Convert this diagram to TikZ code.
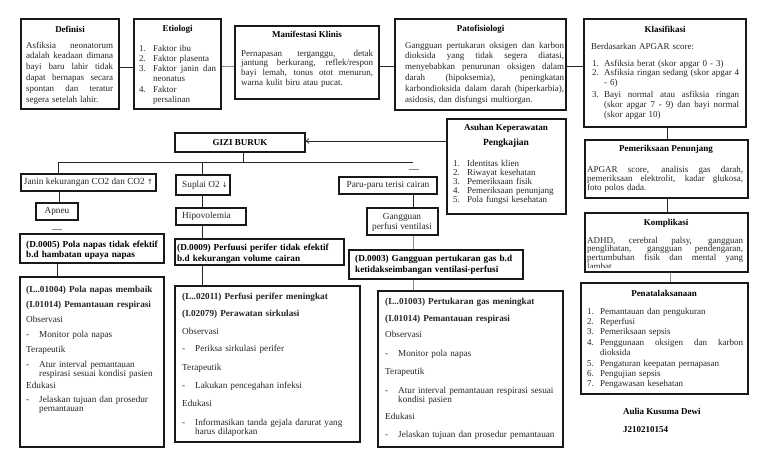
\documentclass[tikz,border=0pt]{standalone}
\usepackage{fontspec}
\setmainfont{Liberation Serif}
\newfontfamily\symfont{DejaVu Sans}
\usetikzlibrary{fit,arrows.meta}
\newcommand{\jl}[2]{{\spaceskip=0pt\xspaceskip=0pt\makebox[#1pt][s]{#2}}}
\newcommand{\nm}[2][14]{\makebox[#1pt][l]{#2}}
\newcommand{\ind}[1][14]{\hspace*{#1pt}}
\begin{document}
\begin{tikzpicture}[x=1pt,y=-1pt,
  frame/.style={draw=black!90, line width=1.2pt, inner sep=0pt},
  conn/.style={draw=black!85, line width=0.7pt},
  lconn/.style={draw=black!45, line width=0.7pt},
  ttl/.style={font=\fontsize{9}{10}\selectfont\bfseries, inner sep=0pt, anchor=center},
  body/.style={font=\fontsize{9}{#1}\selectfont, inner sep=0pt, anchor=base west, text=black!85},
  lbody/.style={font=\fontsize{9.2}{#1}\selectfont, inner sep=0pt, anchor=base west, text=black!85},
  dbody/.style={font=\fontsize{9.2}{#1}\selectfont\bfseries, inner sep=0pt, anchor=base west},
  lbl/.style={font=\fontsize{9.3}{10}\selectfont, inner sep=0pt, text=black!85}]
\fill[white] (0,0) rectangle (768,466);
\useasboundingbox (0,0) rectangle (768,466);

% ---------- top row ----------
\node[frame, fit={(21,19)(119,109)}] (def) {};
\node[ttl] (deft) at (70,29) {Definisi};
\node[body=10.8, text width=92] (defb) at (26,48) {\jl{87}{Asfiksia neonatorum}\\ \jl{87}{adalah keadaan dimana}\\ \jl{87}{bayi baru lahir tidak}\\ \jl{87}{dapat bernapas secara}\\ \jl{87}{spontan dan teratur}\\ segera setelah lahir.};

\node[frame, fit={(134,19)(221,109)}] (eti) {};
\node[ttl] (etit) at (177.5,29) {Etiologi};
\node[body=10.3, text width=85] (etib) at (139,51) {\nm{1.}Faktor ibu\\ \nm{2.}Faktor plasenta\\ \nm{3.}\jl{63}{Faktor janin dan}\\ \ind neonatus\\ \nm{4.}Faktor\\ \ind persalinan};

\node[frame, fit={(235,26)(379,99)}] (man) {};
\node[ttl] (mant) at (307,34) {Manifestasi Klinis};
\node[body=9.8, text width=140] (manb) at (241,56) {\jl{132}{Pernapasan terganggu, detak}\\ \jl{132}{jantung berkurang, reflek/respon}\\ \jl{132}{bayi lemah, tonus otot menurun,}\\ warna kulit biru atau pucat.};

\node[frame, fit={(395,19)(566,110)}] (pat) {};
\node[ttl] (patt) at (480.5,29) {Patofisiologi};
\node[body=10.8, text width=170] (patb) at (405,48) {\jl{159}{Gangguan pertukaran oksigen dan karbon}\\ \jl{159}{dioksida yang tidak segera diatasi,}\\ \jl{159}{menyebabkan penurunan oksigen dalam}\\ \jl{159}{darah (hipoksemia), peningkatan}\\ \jl{159}{karbondioksida dalam darah (hiperkarbia),}\\ asidosis, dan disfungsi multiorgan.};

\node[frame, fit={(584,19)(746,127)}] (kla) {};
\node[ttl] (klat) at (665,29) {Klasifikasi};
\node[body=10, text width=150] (klab) at (591,49) {Berdasarkan APGAR score:};
\node[body=9.8, text width=160] (klal) at (592,66) {\nm[12]{1.}Asfiksia berat (skor apgar 0 - 3)\\ \nm[12]{2.}\jl{135}{Asfiksia ringan sedang (skor apgar 4}\\ \ind[12]- 6)\\[2pt] \nm[12]{3.}\jl{135}{Bayi normal atau asfiksia ringan}\\ \ind[12]\jl{135}{(skor apgar 7 - 9) dan bayi normal}\\ \ind[12](skor apgar 10)};

% ---------- right column ----------
\node[frame, fit={(585,140)(748,198)}] (pen) {};
\node[ttl] (pent) at (666,149) {Pemeriksaan Penunjang};
\node[body=9, text width=165] (penb) at (587,172) {\jl{156}{APGAR score, analisis gas darah,}\\ \jl{156}{pemeriksaan elektrolit, kadar glukosa,}\\ foto polos dada.};

\node[frame, fit={(585,213)(748,272)}] (kom) {};
\node[ttl] (komt) at (666,223) {Komplikasi};
\begin{scope}
\clip (586,213) rectangle (747,267.5);
\node[body=8.8, text width=165] (komb) at (587,243) {\jl{156}{ADHD, cerebral palsy, gangguan}\\ \jl{156}{penglihatan, gangguan pendengaran,}\\ \jl{156}{pertumbuhan fisik dan mental yang}\\ lambat};
\end{scope}

\node[frame, fit={(581,283)(748,394)}] (pnt) {};
\node[ttl] (pntt) at (664,293) {Penatalaksanaan};
\node[body=10.4, text width=165] (pntb) at (587,314) {\nm[13]{1.}Pemantauan dan pengukuran\\ \nm[13]{2.}Reperfusi\\ \nm[13]{3.}Pemeriksaan sepsis\\ \nm[13]{4.}\jl{143}{Penggunaan oksigen dan karbon}\\ \ind[13]dioksida\\ \nm[13]{5.}Pengaturan keepatan pernapasan\\ \nm[13]{6.}Pengujian sepsis\\ \nm[13]{7.}Pengawasan kesehatan};

\node[ttl, anchor=west] (nama) at (623,411) {Aulia Kusuma Dewi};
\node[ttl, anchor=west] (nim) at (623,430) {J210210154};

% ---------- Asuhan ----------
\node[frame, fit={(447,119)(566,214)}] (asu) {};
\node[ttl] (asut) at (506,128) {Asuhan Keperawatan};
\node[ttl, font=\fontsize{9.5}{11}\selectfont\bfseries] (pkj) at (506,143) {Pengkajian};
\node[body=9, text width=112] (asub) at (453,166) {\nm{1.}Identitas klien\\ \nm{2.}Riwayat kesehatan\\ \nm{3.}Pemeriksaan fisik\\ \nm{4.}Pemeriksaan penunjang\\ \nm{5.}Pola fungsi kesehatan};

% ---------- tree ----------
\node[frame, fit={(175,133)(305,152)}] (gizi) {};
\node[ttl] (gizit) at (240,142.5) {GIZI BURUK};

\node[frame, fit={(21,174)(156,191)}] (janin) {};
\node[lbl] (janint) at (88.5,182.5) {Janin kekurangan CO2 dan CO2 {\symfont\fontsize{7}{8}\selectfont ↑}};
\node[frame, fit={(176,175)(230,195)}] (sup) {};
\node[lbl, anchor=west] (supt) at (182,185) {Suplai O2 {\symfont\fontsize{7}{8}\selectfont ↓}};
\node[frame, fit={(339,177)(437,194)}] (paru) {};
\node[lbl] (parut) at (388,185.5) {Paru-paru terisi cairan};

\node[frame, fit={(36,203)(78,220)}] (apn) {};
\node[lbl] (apnt) at (57,211.5) {Apneu};
\node[frame, fit={(176,208)(246,225)}] (hip) {};
\node[lbl, anchor=west] (hipt) at (182,216.5) {Hipovolemia};
\node[frame, fit={(367,208)(438,235)}] (gpv) {};
\node[lbl, align=center] (gpvt) at (402,222.5) {Gangguan\\perfusi ventilasi};

\node[frame, fit={(20,234)(164,263)}] (d5) {};
\node[dbody=10, text width=145] (d5t) at (26,247) {(D.0005) Pola napas tidak efektif\\ b.d hambatan upaya napas};
\node[frame, fit={(175,239)(344,265)}] (d9) {};
\node[dbody=11, text width=170] (d9t) at (177,250) {(D.0009) Perfuusi perifer tidak efektif\\ b.d kekurangan volume cairan};
\node[frame, fit={(349,250)(523,279)}] (d3) {};
\node[dbody=11, text width=175] (d3t) at (355,261) {(D.0003) Gangguan pertukaran gas b.d\\ ketidakseimbangan ventilasi-perfusi};

\node[frame, fit={(20,277)(164,447)}] (l4) {};
\node[lbody=9, text width=145] (l4t) at (26,292) {\textbf{(L..01004) Pola napas membaik}\\[6pt] \textbf{(I.01014) Pemantauan respirasi}\\[6pt] Observasi\\[6pt] \nm[13]{-}Monitor pola napas\\[6pt] Terapeutik\\[6pt] \nm[13]{-}Atur interval pemantauan\\ \ind[13]respirasi sesuai kondisi pasien\\[3pt] Edukasi\\[5pt] \nm[13]{-}Jelaskan tujuan dan prosedur\\ \ind[13]pemantauan};

\node[frame, fit={(175,286)(360,442)}] (l2) {};
\node[lbody=9, text width=180] (l2t) at (182,299) {\textbf{(L..02011) Perfusi perifer meningkat}\\[8pt] \textbf{(I.02079) Perawatan sirkulasi}\\[9pt] Observasi\\[8pt] \nm[13]{-}Periksa sirkulasi perifer\\[10pt] Terapeutik\\[9pt] \nm[13]{-}Lakukan pencegahan infeksi\\[9pt] Edukasi\\[10pt] \nm[13]{-}Informasikan tanda gejala darurat yang\\ \ind[13]harus dilaporkan};

\node[frame, fit={(378,291)(563,447)}] (l3) {};
\node[lbody=9.5, text width=180] (l3t) at (385,304) {\textbf{(L..01003) Pertukaran gas meningkat}\\[7.5pt] \textbf{(I.01014) Pemantauan respirasi}\\[6.5pt] Observasi\\[9.5pt] \nm[13]{-}Monitor pola napas\\[8.5pt] Terapeutik\\[9.5pt] \nm[13]{-}Atur interval pemantauan respirasi sesuai\\ \ind[13]kondisi pasien\\[7.5pt] Edukasi\\[8.5pt] \nm[13]{-}Jelaskan tujuan dan prosedur pemantauan};

% ---------- connectors ----------
\draw[conn] (def.east |- 0,67) -- (eti.west |- 0,67);
\draw[lconn] (eti.east |- 0,66) -- (man.west |- 0,66);
\draw[conn] (man.east |- 0,66) -- (pat.west |- 0,66);
\draw[conn] (pat.east |- 0,66) -- (kla.west |- 0,66);
\draw[conn] (667,0 |- kla.south) -- (667,0 |- pen.north);
\draw[conn] (667,0 |- pen.south) -- (667,0 |- kom.north);
\draw[lconn] (670,0 |- kom.south) -- (670,0 |- pnt.north);
\draw[conn, -{Straight Barb[length=3pt,width=5pt]}] (asu.west |- 0,141) -- (gizi.east |- 0,141);

\coordinate (hj) at (243,162);
\coordinate (hr) at (413,162);
\coordinate (hs) at (202,162);
\draw[conn] (243,0 |- gizi.south) -- (hj);
\draw[conn] (58,0 |- janin.north) |- (hr);
\draw[conn] (202,0 |- sup.north) -- (hs);
\draw[conn] (59,0 |- janin.south) -- (59,0 |- apn.north);
\draw[conn] (57,0 |- d5.south) -- (57,0 |- l4.north);
\draw[conn] (202,0 |- sup.south) -- (202,0 |- hip.north);
\draw[conn] (202,0 |- hip.south) -- (202,0 |- d9.north);
\draw[conn] (202,0 |- d9.south) -- (202,0 |- l2.north);
\draw[conn] (413,0 |- paru.south) -- (413,0 |- gpv.north);
\draw[lconn] (413,0 |- gpv.south) -- (413,0 |- d3.north);
\draw[lconn] (413,0 |- d3.south) -- (413,0 |- l3.north);

% small stray dashes
\draw[lconn] (52,229) -- (62,229);
\draw[lconn] (409,169) -- (419,169);
\end{tikzpicture}
\end{document}
